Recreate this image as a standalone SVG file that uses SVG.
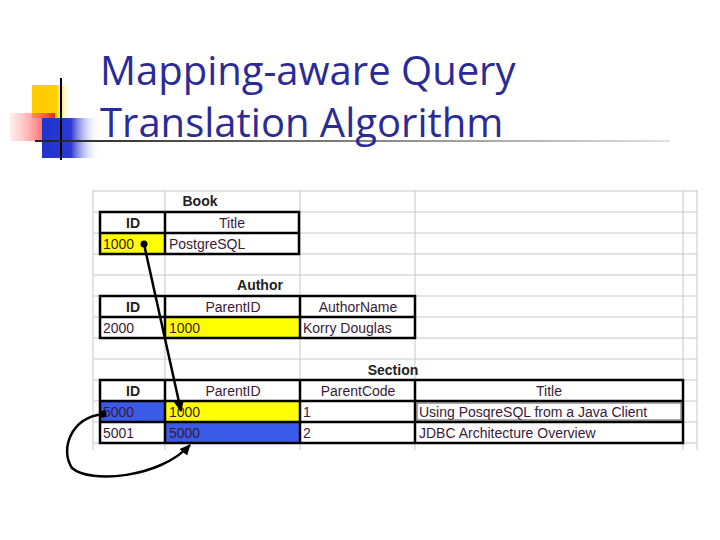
<svg xmlns="http://www.w3.org/2000/svg" width="720" height="540" viewBox="0 0 720 540">
<defs>
<linearGradient id="gy" x1="0" x2="1"><stop offset="0" stop-color="#ffcc00"/><stop offset="0.6" stop-color="#ffd000"/><stop offset="1" stop-color="#fff" stop-opacity="0"/></linearGradient>
<linearGradient id="gr" x1="1" x2="0"><stop offset="0" stop-color="#ff2020"/><stop offset="1" stop-color="#ffc0c0" stop-opacity="0.3"/></linearGradient>
<linearGradient id="gb" x1="0" x2="1"><stop offset="0" stop-color="#2233cc"/><stop offset="0.5" stop-color="#2a3ad0"/><stop offset="1" stop-color="#fff" stop-opacity="0"/></linearGradient>
<linearGradient id="gl" gradientUnits="userSpaceOnUse" x1="35" y1="0" x2="670" y2="0"><stop offset="0" stop-color="#222"/><stop offset="1" stop-color="#e0e0e0"/></linearGradient>
<marker id="dot" markerWidth="8" markerHeight="8" refX="4" refY="4" markerUnits="userSpaceOnUse"><circle cx="4" cy="4" r="3.5" fill="#000"/></marker>
<marker id="ah" markerWidth="12" markerHeight="12" refX="10" refY="6" orient="auto" markerUnits="userSpaceOnUse"><path d="M0,1 L11,6 L0,11 Z" fill="#000"/></marker>
</defs>
<style>
.t{font-family:"Liberation Sans",Arial,sans-serif;font-size:14px;fill:#3a1a3a}
.h{font-family:"Liberation Sans",Arial,sans-serif;font-size:14px;font-weight:bold;fill:#222}
.c{text-anchor:middle}
.g{stroke:#c8c8c8;stroke-width:1}
.b{fill:none;stroke:#000;stroke-width:2.5}
.ttl{font-family:"Open Sans","DejaVu Sans",sans-serif;font-size:40px;fill:#2b2b95}
</style>
<rect width="720" height="540" fill="#fff"/>
<g id="logo">
<rect x="32" y="85" width="40" height="33" fill="url(#gy)"/>
<rect x="10" y="113" width="45" height="28" fill="url(#gr)"/>
<rect x="42" y="118" width="58" height="40" fill="url(#gb)"/>
<line x1="61" y1="78" x2="61" y2="160" stroke="#000" stroke-width="2"/>
<line x1="35" y1="141" x2="670" y2="141" stroke="url(#gl)" stroke-width="2"/>
</g>
<g id="title">
<text class="ttl" x="100" y="85">Mapping-aware Query</text>
<text class="ttl" x="100" y="137">Translation Algorithm</text>
</g>
<g id="grid">
<path class="g" d="M93,190V450M165,190V450M300,190V450M415,190V450M683,190V450M697,190V450M93,191H697M93,212H697M93,233H697M93,254H697M93,275H697M93,296H697M93,317H697M93,338H697M93,359H697M93,380H697M93,401H697M93,422H697M93,443H697"/>
</g>
<g id="book">
<rect x="100" y="233" width="65" height="21" fill="#ffff00"/>
<text class="h c" x="200" y="206">Book</text>
<text class="h c" x="133" y="228">ID</text><text class="t c" x="232" y="228">Title</text>
<text class="t" x="103" y="249">1000</text><text class="t" x="169" y="249">PostgreSQL</text>
<path class="b" d="M100,212H299V254H100ZM100,233H299M165,212V254"/>
</g>
<g id="author">
<rect x="165" y="317" width="135" height="21" fill="#ffff00"/>
<text class="h c" x="260" y="290">Author</text>
<text class="h c" x="133" y="312">ID</text><text class="t c" x="233" y="312">ParentID</text><text class="t c" x="358" y="312">AuthorName</text>
<text class="t" x="103" y="333">2000</text><text class="t" x="169" y="333">1000</text><text class="t" x="303" y="333">Korry Douglas</text>
<path class="b" d="M100,296H415V338H100ZM100,317H415M165,296V338M300,296V338"/>
</g>
<g id="section">
<rect x="100" y="401" width="65" height="21" fill="#3a5ae8"/>
<rect x="165" y="401" width="135" height="21" fill="#ffff00"/>
<rect x="165" y="422" width="135" height="21" fill="#3a5ae8"/>
<text class="h c" x="393" y="375">Section</text>
<text class="h c" x="133" y="396">ID</text><text class="t c" x="233" y="396">ParentID</text><text class="t c" x="358" y="396">ParentCode</text><text class="t c" x="549" y="396">Title</text>
<text class="t" x="103" y="417">5000</text><text class="t" x="169" y="417">1000</text><text class="t" x="303" y="417">1</text><text class="t" x="419" y="417">Using PosqreSQL from a Java Client</text>
<text class="t" x="103" y="438">5001</text><text class="t" x="169" y="438">5000</text><text class="t" x="303" y="438">2</text><text class="t" x="419" y="438">JDBC Architecture Overview</text>
<rect x="417" y="403" width="264" height="17" fill="none" stroke="#555" stroke-width="1"/>
<path class="b" d="M100,380H683V443H100ZM100,401H683M100,422H683M165,380V443M300,380V443M415,380V443"/>
</g>
<g id="connectors" fill="none" stroke="#000" stroke-width="2.5">
<path d="M144,244 L181,411" marker-start="url(#dot)" marker-end="url(#ah)"/>
<path d="M103,414 C70,418 60,450 72,468 C90,484 160,478 190,445" marker-start="url(#dot)" marker-end="url(#ah)"/>
</g>
</svg>
